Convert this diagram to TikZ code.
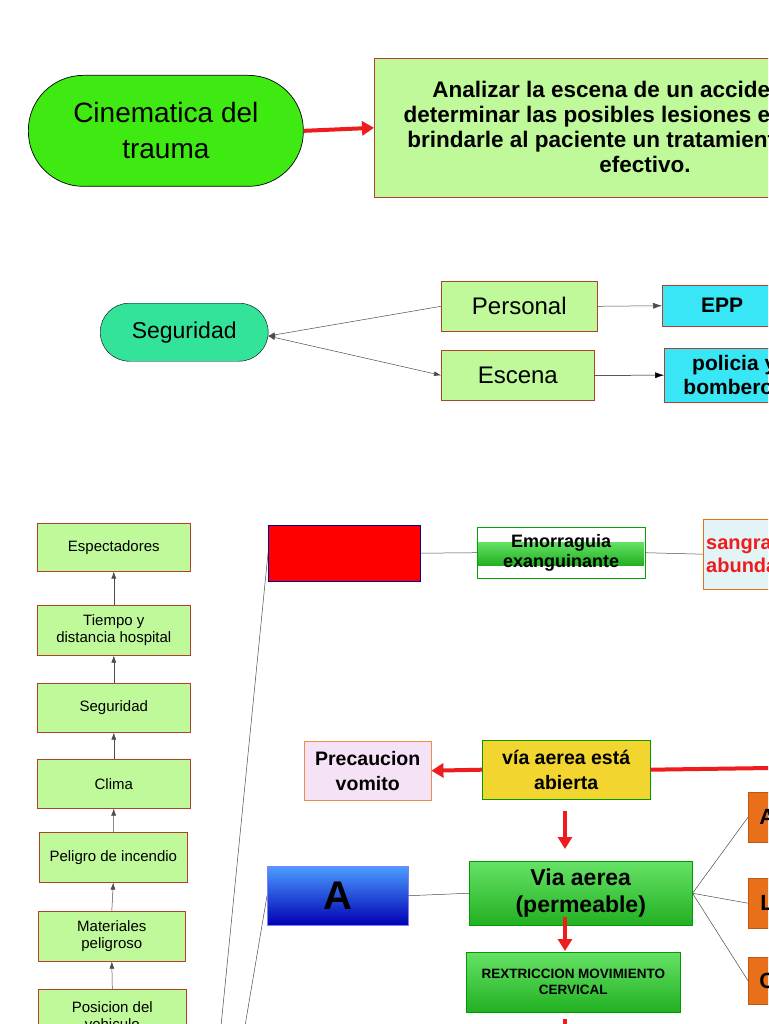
\documentclass[tikz,border=0pt]{standalone}
\usepackage{fontspec}
\setmainfont{Liberation Sans}
\usetikzlibrary{arrows.meta}
\definecolor{lgreen}{HTML}{BFF99A}
\definecolor{bgreen}{HTML}{3FEA12}
\definecolor{teal1}{HTML}{33E39A}
\definecolor{cyan1}{HTML}{38E6F5}
\definecolor{brd}{HTML}{B04030}
\definecolor{redA}{HTML}{EE1C1C}
\definecolor{orangeb}{HTML}{E8701A}
\definecolor{gr1}{HTML}{66E266}
\definecolor{gr2}{HTML}{22B022}
\definecolor{yel}{HTML}{F2D52E}
\definecolor{lil}{HTML}{F5E2F7}
\definecolor{lcy}{HTML}{E2F4F6}
\tikzset{
 x=1pt,y=-1pt,
 box/.style={draw=brd,fill=lgreen,line width=0.6pt,align=center,anchor=north west,inner sep=1pt},
 lbox/.style={box,font=\fontsize{15}{17}\selectfont},
 conn/.style={draw=black!70,line width=0.5pt},
 upar/.style={conn,-{Latex[length=7pt,width=5pt]}},
 redar/.style={draw=redA,line width=4pt,-{Triangle[length=12pt,width=14pt]}},
 grbox/.style={anchor=north west,draw=green!60!black,line width=0.5pt,top color=gr1,bottom color=gr2,align=center,inner sep=1pt},
 obox/.style={anchor=north west,draw=orangeb!80!black,fill=orangeb,minimum width=60pt,font=\bfseries\fontsize{22}{24}\selectfont,text=black,inner sep=0pt},
}
\begin{document}
\begin{tikzpicture}
\useasboundingbox (0,0) rectangle (768,1024);
\clip (0,0) rectangle (768,1024);
\fill[white] (0,0) rectangle (768,1024);
% title row
\node[anchor=north west,draw=black,fill=bgreen,rounded corners=55pt,minimum width=275pt,minimum height=111pt,align=center,font=\fontsize{28}{36}\selectfont,line width=0.7pt] (cin) at (28,75) {Cinematica del\\trauma};
\node[box,minimum width=540pt,minimum height=139pt] (obj) at (374,58) {};
\node[font=\bfseries\fontsize{22.5}{25}\selectfont,align=center] (objt) at (645,127) {Analizar la escena de un accidente para\\determinar las posibles lesiones existentes y\\brindarle al paciente un tratamiento rápido y\\efectivo.};
\draw[redar] (cin.east) -- (obj.west);
% seguridad row
\node[anchor=north west,draw=black,fill=teal1,rounded corners=29pt,minimum width=168pt,minimum height=58pt,font=\fontsize{23}{26}\selectfont] (seg) at (100,303) {Seguridad};
\node[box,minimum width=156pt,minimum height=50pt,font=\fontsize{24}{26}\selectfont] (per) at (441,281) {Personal};
\node[box,minimum width=153pt,minimum height=50pt,font=\fontsize{24}{26}\selectfont] (esc) at (441,350) {Escena};
\node[anchor=north west,draw=brd,fill=cyan1,minimum width=140pt,minimum height=41pt,font=\bfseries\fontsize{21}{22}\selectfont,align=center,inner sep=0pt] (epp) at (662,285) {EPP\hspace*{20pt}};
\node[anchor=north west,draw=brd,fill=cyan1,minimum width=140pt,minimum height=54pt,font=\bfseries\fontsize{21}{24}\selectfont,align=center,inner sep=0pt] (pol) at (664,348) {policia y\\bomberos};
\coordinate (segE) at (268,336);
\draw[conn,{Latex[length=7pt,width=5pt]}-] (segE) -- (per.west);
\draw[conn,{Latex[length=7pt,width=5pt]}-{Latex[length=7pt,width=5pt]}] (segE) -- (esc.west);
\draw[conn,-{Latex[length=9pt,width=6pt]}] (per.east) -- (epp.west);
\draw[conn,black,-{Latex[length=9pt,width=6pt]}] (esc.east) -- (pol.west);
% left column
\node[lbox,minimum width=153pt,minimum height=48pt] (l1) at (37,523) {Espectadores};
\node[lbox,minimum width=153pt,minimum height=50pt] (l2) at (37,605) {Tiempo y\\distancia hospital};
\node[lbox,minimum width=153pt,minimum height=49pt] (l3) at (37,683) {Seguridad};
\node[lbox,minimum width=153pt,minimum height=49pt] (l4) at (37,759) {Clima};
\node[lbox,minimum width=148pt,minimum height=50pt] (l5) at (39,832) {Peligro de incendio};
\node[lbox,minimum width=147pt,minimum height=50pt] (l6) at (38,911) {Materiales\\peligroso};
\node[lbox,minimum width=148pt,minimum height=52pt] (l7) at (38,989) {Posicion del\\vehiculo};
\foreach \a/\b in {l2/l1,l3/l2,l4/l3,l5/l4,l6/l5,l7/l6} \draw[upar] (\a.north) -- (\b.south);
% red block
\node[anchor=north west,draw=blue!60!black,fill=red,minimum width=152pt,minimum height=56pt] (rb) at (268,525) {};
\node[anchor=north west,draw=green!65!black,fill=white,minimum width=168pt,minimum height=51pt,inner sep=0pt] (emo) at (477,527) {};
\fill[top color=gr1,bottom color=gr2] (478,542) rectangle (644,565);
\node[font=\bfseries\fontsize{18}{20}\selectfont,align=center] at (emo.center) {Emorraguia\\exanguinante};
\node[anchor=north west,draw=orangeb,fill=lcy,minimum width=100pt,minimum height=70pt,font=\bfseries\fontsize{20}{23}\selectfont,text=redA,align=left,inner sep=3pt,text width=94pt] (san) at (703,519) {sangrado\\abundante};
\draw[conn] (rb.east) -- (emo.west);
\draw[conn] (emo.east) -- (san.west);
% airway
\node[anchor=north west,draw=orangeb!80,fill=lil,minimum width=127pt,minimum height=59pt,font=\bfseries\fontsize{19.5}{25}\selectfont,align=center,inner sep=0pt] (pre) at (304,741) {Precaucion\\vomito};
\node[anchor=north west,draw=green!60!black,fill=yel,minimum width=168pt,minimum height=59pt,font=\bfseries\fontsize{19.5}{25}\selectfont,align=center,inner sep=0pt] (via) at (482,740) {vía aerea está\\abierta};
\draw[redar] (via.west) -- (pre.east);
\draw[draw=redA,line width=4pt] (via.east) -- (770,768);
\node[anchor=north west,draw=blue!50,top color=blue!55!cyan!70,bottom color=blue!70!black,minimum width=141pt,minimum height=59pt,font=\bfseries\fontsize{40}{40}\selectfont,inner sep=0pt] (A) at (267,866) {A};
\node[grbox,minimum width=223pt,minimum height=64pt,font=\bfseries\fontsize{23}{27}\selectfont] (va) at (469,861) {Via aerea\\(permeable)};
\node[grbox,minimum width=214pt,minimum height=60pt,font=\bfseries\fontsize{13.5}{16}\selectfont] (rex) at (466,952) {REXTRICCION MOVIMIENTO\\CERVICAL};
\coordinate (d1) at (565,811);
\coordinate (d1e) at (565,849);
\coordinate (d2) at (565,917);
\coordinate (d2e) at (565,951);
\draw[redar,line width=3.5pt] (d1) -- (d1e);
\draw[redar,line width=3.5pt] (d2) -- (d2e);
\draw[draw=redA,line width=3.5pt] (565,1019) -- (565,1026);
\draw[conn] (A.east) -- (va.west);
\node[obox,minimum height=50pt] (o1) at (748,792) {\hspace*{8pt}A\hspace*{30pt}};
\node[obox,minimum height=50pt] (o2) at (748,878) {\hspace*{8pt}L\hspace*{30pt}};
\node[obox,minimum height=47pt] (o3) at (748,957) {\hspace*{8pt}C\hspace*{30pt}};
\draw[conn] (va.east) -- (o1.west);
\draw[conn] (va.east) -- (o2.west);
\draw[conn] (va.east) -- (o3.west);
% long lines from left
\coordinate (c1) at (221,1026);
\coordinate (c2) at (245,1026);
\draw[conn] (rb.west) -- (c1);
\draw[conn] (A.west) -- (c2);
\end{tikzpicture}
\end{document}
